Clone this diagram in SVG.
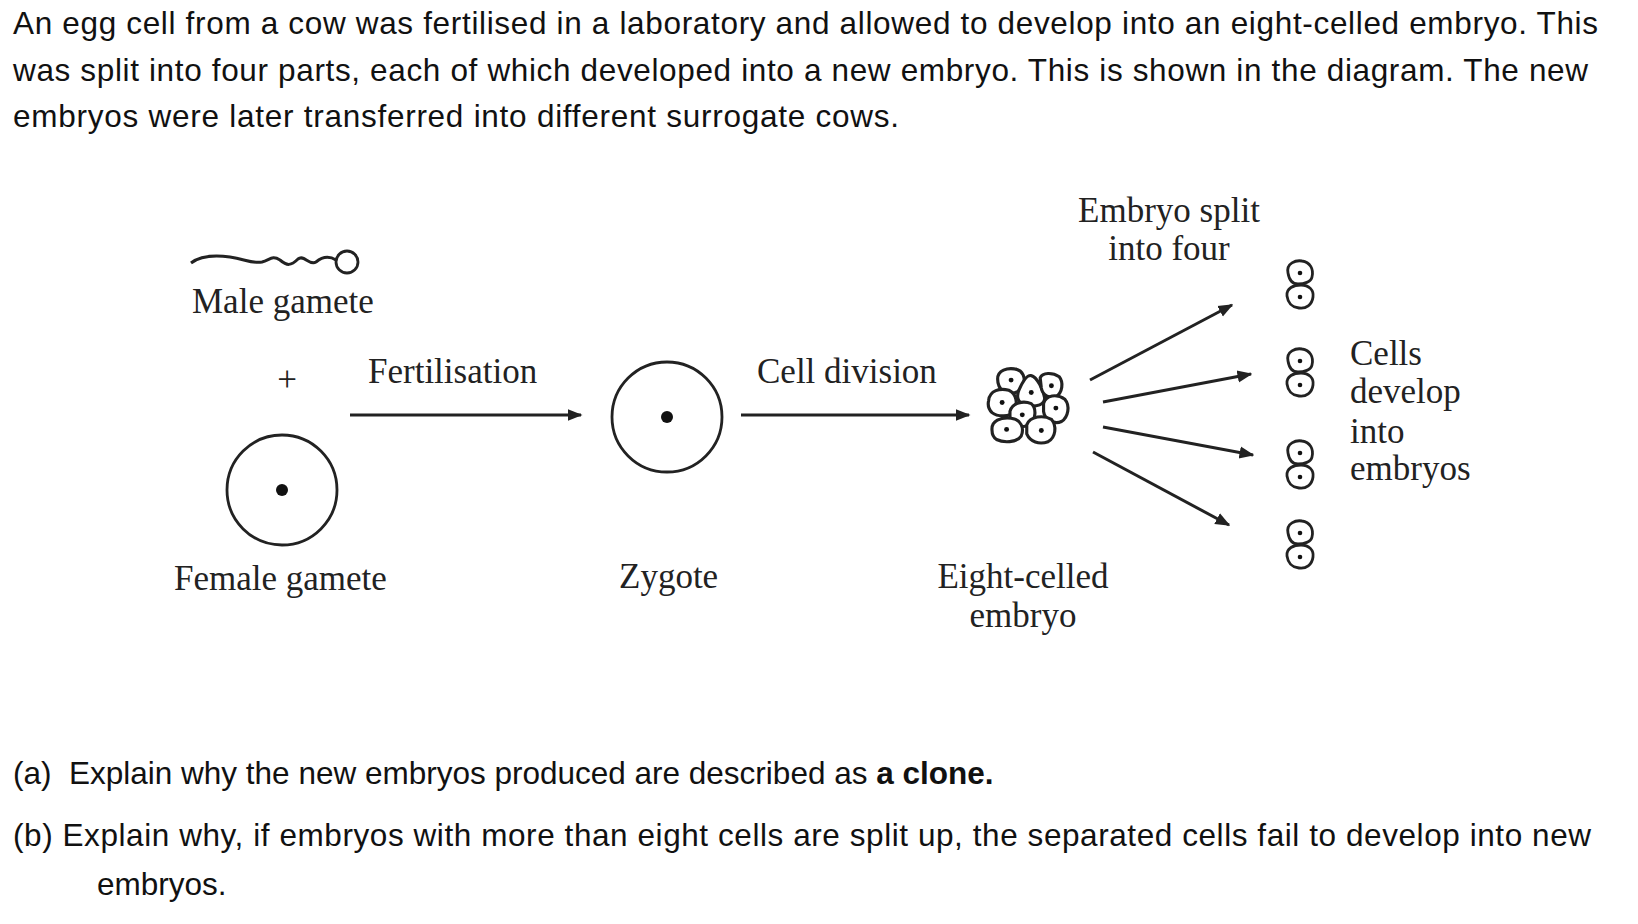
<svg xmlns="http://www.w3.org/2000/svg" width="1638" height="924" viewBox="0 0 1638 924">
<style>
.p{font-family:"Liberation Sans",Arial,sans-serif;font-size:31.5px;fill:#111}
.s{font-family:"Liberation Serif","Times New Roman",serif;font-size:35px;fill:#222}
.ln{stroke:#222;stroke-width:3;fill:none}
.c{stroke:#222;stroke-width:2.8;fill:#fff}
.d{fill:#111}
</style>
<defs>
<marker id="ah" viewBox="0 0 10 10" refX="9" refY="5" markerWidth="5" markerHeight="5" orient="auto" markerUnits="strokeWidth"><path d="M0,1 L10,5 L0,9 z" fill="#222"/></marker>
<g id="two">
<path class="c" d="M-12,-12 C-14,-22 -4,-25 2,-24 C10,-23 14,-16 12,-8 C11,-3 4,-1 -2,-1 C-9,-1 -11,-6 -12,-12 z"/>
<circle class="d" cx="0" cy="-12" r="2.3"/>
<path class="c" d="M-13,11 C-14,3 -6,0 1,0 C9,0 14,5 13,12 C12,20 6,24 -1,23 C-9,22 -12,18 -13,11 z"/>
<circle class="d" cx="0" cy="12" r="2.3"/>
</g>
</defs>
<rect width="1638" height="924" fill="#fff"/>
<g id="intro">
<text class="p" x="13" y="34" textLength="1585">An egg cell from a cow was fertilised in a laboratory and allowed to develop into an eight-celled embryo. This</text>
<text class="p" x="13" y="81" textLength="1575">was split into four parts, each of which developed into a new embryo. This is shown in the diagram. The new</text>
<text class="p" x="13" y="127" textLength="886">embryos were later transferred into different surrogate cows.</text>
</g>
<g id="male">
<path class="ln" stroke-width="2.5" d="M191,263 C200,256 215,255 230,257 C245,259 252,264 262,262 C270,260 272,255 280,260 C287,266 291,266 298,259 C304,254 309,266 316,262 C322,257 328,255 336,260"/>
<circle class="c" cx="347" cy="262" r="11"/>
<text class="s" x="192" y="313">Male gamete</text>
<text class="s" x="287" y="391" text-anchor="middle" font-size="28">+</text>
</g>
<g id="female">
<circle class="c" cx="282" cy="490" r="55"/>
<circle class="d" cx="282" cy="490" r="6"/>
<text class="s" x="174" y="590">Female gamete</text>
</g>
<g id="zygote">
<circle class="c" cx="667" cy="417" r="55"/>
<circle class="d" cx="667" cy="417" r="6"/>
<text class="s" x="619" y="588">Zygote</text>
</g>
<g id="eight">
<g transform="translate(1029,407) scale(1.12) translate(-1029,-407)">
<path class="c" d="M1001,382 C1001,374 1010,372 1016,373 C1024,374 1026,381 1024,388 C1021,395 1012,396 1006,393 C1002,390 1001,386 1001,382 z"/>
<path class="c" d="M1031,379 C1036,380 1042,392 1043,399 C1043,405 1036,407 1028,406 C1020,405 1017,399 1020,392 C1023,385 1027,378 1031,379 z"/>
<path class="c" d="M1039,381 C1041,376 1050,376 1056,380 C1060,385 1059,394 1053,398 C1047,400 1041,396 1040,390 z"/>
<path class="c" d="M993,401 C994,392 1003,390 1011,392 C1018,395 1019,404 1016,411 C1012,416 1001,416 996,412 C993,409 992,405 993,401 z"/>
<path class="c" d="M1012,411 C1014,403 1024,401 1031,404 C1036,408 1035,418 1030,423 C1024,426 1015,424 1012,418 z"/>
<path class="c" d="M1042,404 C1044,396 1054,395 1061,400 C1066,406 1064,416 1058,420 C1051,423 1043,418 1042,411 z"/>
<path class="c" d="M996,428 C995,419 1004,416 1013,417 C1022,418 1025,426 1022,433 C1018,439 1006,439 1000,436 C997,434 996,431 996,428 z"/>
<path class="c" d="M1027,423 C1030,415 1042,414 1049,418 C1054,424 1053,434 1046,438 C1038,441 1030,438 1027,431 z"/>
<circle class="d" cx="1013" cy="383" r="2.2"/><circle class="d" cx="1031" cy="394" r="2.2"/>
<circle class="d" cx="1049" cy="388" r="2.2"/><circle class="d" cx="1005" cy="403" r="2.2"/>
<circle class="d" cx="1023" cy="414" r="2.2"/><circle class="d" cx="1053" cy="408" r="2.2"/>
<circle class="d" cx="1009" cy="427" r="2.2"/><circle class="d" cx="1040" cy="428" r="2.2"/>
</g>
<text class="s" x="1023" y="588" text-anchor="middle">Eight-celled</text>
<text class="s" x="1023" y="627" text-anchor="middle">embryo</text>
</g>
<g id="split">
<text class="s" x="1169" y="222" text-anchor="middle">Embryo split</text>
<text class="s" x="1169" y="260" text-anchor="middle">into four</text>
<use href="#two" x="1300" y="285"/>
<use href="#two" x="1300" y="373"/>
<use href="#two" x="1300" y="465"/>
<use href="#two" x="1300" y="545"/>
<text class="s" x="1350" y="365">Cells</text>
<text class="s" x="1350" y="403">develop</text>
<text class="s" x="1350" y="443">into</text>
<text class="s" x="1350" y="480">embryos</text>
</g>
<g id="connectors">
<text class="s" x="368" y="383">Fertilisation</text>
<line class="ln" x1="350" y1="415" x2="581" y2="415" marker-end="url(#ah)"/>
<text class="s" x="757" y="383">Cell division</text>
<line class="ln" x1="741" y1="415" x2="969" y2="415" marker-end="url(#ah)"/>
<line class="ln" x1="1090" y1="380" x2="1232" y2="305" marker-end="url(#ah)"/>
<line class="ln" x1="1103" y1="402" x2="1251" y2="374" marker-end="url(#ah)"/>
<line class="ln" x1="1103" y1="427" x2="1253" y2="455" marker-end="url(#ah)"/>
<line class="ln" x1="1093" y1="452" x2="1229" y2="525" marker-end="url(#ah)"/>
</g>
<g id="questions">
<text class="p" x="13" y="784" xml:space="preserve">(a)  Explain why the new embryos produced are described as <tspan font-weight="bold">a clone.</tspan></text>
<text class="p" x="13" y="846" textLength="1578">(b) Explain why, if embryos with more than eight cells are split up, the separated cells fail to develop into new</text>
<text class="p" x="97" y="895">embryos.</text>
</g>
</svg>
